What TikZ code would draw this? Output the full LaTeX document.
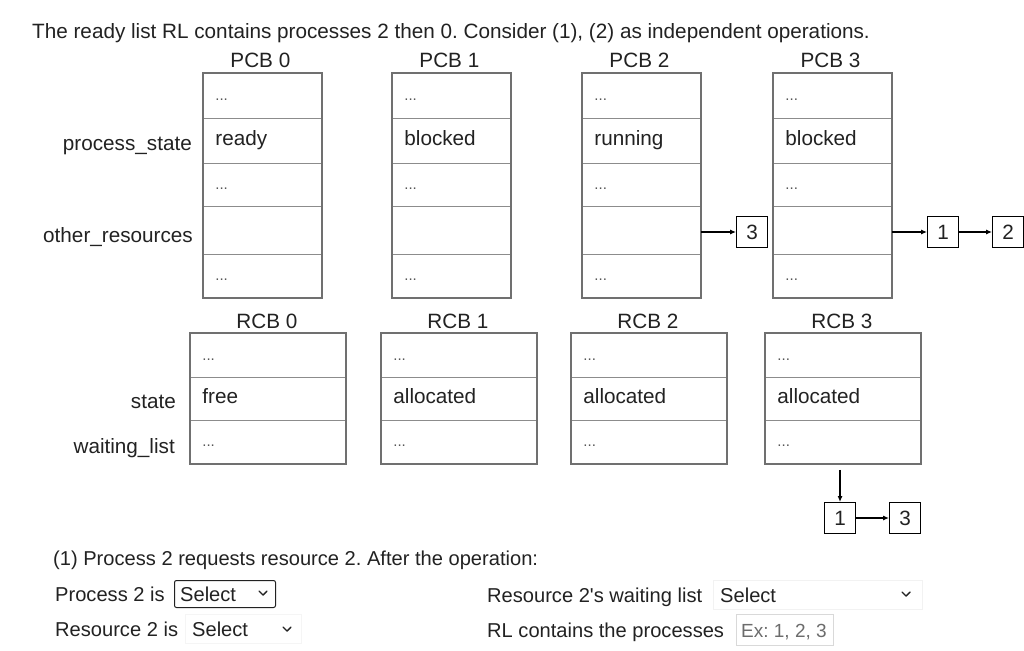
\documentclass[tikz,border=0pt]{standalone}
\usepackage{fontspec}
\setmainfont{Liberation Sans}
\newfontfamily\plainf{Liberation Sans}
\usetikzlibrary{arrows.meta,calc}
\definecolor{ink}{HTML}{222222}
\definecolor{frame}{HTML}{707070}
\definecolor{rulec}{HTML}{8C8C8C}
\definecolor{dotc}{HTML}{555555}
\frenchspacing
\newcommand{\dotsx}{{\fontsize{15}{16}\selectfont\color{dotc}...}}
\newcommand{\pcbox}[4]{%
  \node[cell, minimum height=45] (#1a) at (#2,73) {\dotsx};
  \node[cell, minimum height=45] (#1b) at (#2,118) {#4};
  \node[cell, minimum height=43] (#1c) at (#2,163) {\dotsx};
  \node[cell, minimum height=48] (#1d) at (#2,206) {};
  \node[cell, minimum height=43] (#1e) at (#2,254) {\dotsx};
  \draw[framebox] (#1a.north west) rectangle (#1e.south east);
  \node[anchor=base] (#1t) at ($(#1a.north)+(-2,-5)$) {#3};
}
\newcommand{\rcbox}[4]{%
  \node[rcell, minimum height=44] (#1a) at (#2,333) {\dotsx};
  \node[rcell, minimum height=43] (#1b) at (#2,377) {#4};
  \node[rcell, minimum height=43] (#1c) at (#2,420) {\dotsx};
  \draw[framebox] (#1a.north west) rectangle (#1c.south east);
  \node[anchor=base] (#1t) at ($(#1a.north)+(-1,-5)$) {#3};
}
\newcommand{\chevron}[1]{\draw[line width=1.4pt, ink, line cap=round, line join=round] ($(#1)+(-4,-2)$) -- ++(4,4) -- ++(4,-4);}
\begin{document}
\begin{tikzpicture}[x=1pt,y=-1pt,
  every node/.style={text=ink, inner sep=0pt, font=\fontsize{20.7}{24}\selectfont},
  cell/.style={draw=rulec, line width=0.8pt, anchor=north west, inner xsep=12pt, inner ysep=0pt,
    text width=94pt, minimum width=118pt, align=left, text height=14pt, text depth=4pt},
  rcell/.style={cell, text width=131pt, minimum width=155pt},
  framebox/.style={draw=frame, line width=1.8pt},
  lbox/.style={draw=black, line width=1pt, minimum width=31pt, minimum height=31pt, inner sep=0pt},
  arr/.style={draw=black, line width=1.1pt, -{Latex[length=6pt,width=5pt]}},
  lab/.style={anchor=base east},
  txt/.style={anchor=base west},
  ftxt/.style={anchor=base west, font=\fontsize{20.1}{24}\selectfont}]
\useasboundingbox (0,0) rectangle (1024,650);
\fill[white] (0,0) rectangle (1024,650);

\node[txt] (head) at (32,39) {The ready list RL contains processes 2 then 0. Consider (1), (2) as independent operations.};

\pcbox{p0}{203}{PCB 0}{ready}
\pcbox{p1}{392}{PCB 1}{blocked}
\pcbox{p2}{582}{PCB 2}{running}
\pcbox{p3}{773}{PCB 3}{blocked}

\node[lab] (lps) at (192,150) {process\_state};
\node[lab] (lor) at (193,242) {other\_resources};

\node[lbox] (q3) at (752,232) {3};
\node[lbox] (w1) at (943,232) {1};
\node[lbox] (w2) at (1008,232) {2};
\draw[arr] (q3.west -| p2d.east) -- (q3.west);
\draw[arr] (w1.west -| p3d.east) -- (w1.west);
\draw[arr] (w1.east) -- (w2.west);

\rcbox{r0}{190}{RCB 0}{free}
\rcbox{r1}{381}{RCB 1}{allocated}
\rcbox{r2}{571}{RCB 2}{allocated}
\rcbox{r3}{765}{RCB 3}{allocated}

\node[lab] (lst) at (176,408) {state};
\node[lab] (lwl) at (175,453) {waiting\_list};

\node[lbox] (v1) at (840,518) {1};
\node[lbox] (v3) at (905,518) {3};
\draw[arr, shorten <=6pt] (v1.north |- r3c.south) -- (v1.north);
\draw[arr] (v1.east) -- (v3.west);

\node[ftxt] (op1) at (53,565) {(1) Process 2 requests resource 2. After the operation:};
\node[ftxt] (pl) at (55,601) {Process 2 is};
\node[draw=ink, line width=1pt, rounded corners=2pt, minimum width=101pt, minimum height=27pt, anchor=north west, inner sep=0pt] (s1) at (174,580) {};
\node[ftxt] (s1t) at (180,601) {Select};
\chevron{263,593}
\node[ftxt] (rl) at (55,636) {Resource 2 is};
\node[draw=gray!8, line width=0.8pt, minimum width=116pt, minimum height=29pt, anchor=north west, inner sep=0pt] (s2) at (185,614) {};
\node[ftxt] (s2t) at (192,636) {Select};
\chevron{287,629}

\node[ftxt] (wl) at (487,602) {Resource {\plainf 2's} waiting list};
\node[draw=gray!10, line width=0.8pt, minimum width=209pt, minimum height=29pt, anchor=north west, inner sep=0pt] (s3) at (713,580) {};
\node[ftxt] (s3t) at (720,602) {Select};
\chevron{906,594}
\node[ftxt] (rlc) at (487,637) {RL contains the processes};
\node[draw=gray!30, line width=0.8pt, minimum width=97pt, minimum height=31pt, anchor=north west, inner sep=0pt] (ex) at (736,614) {};
\node[ftxt, text=gray!85!black, font=\fontsize{19}{22}\selectfont] (ext) at (741,637) {Ex: 1, 2, 3};
\end{tikzpicture}
\end{document}
